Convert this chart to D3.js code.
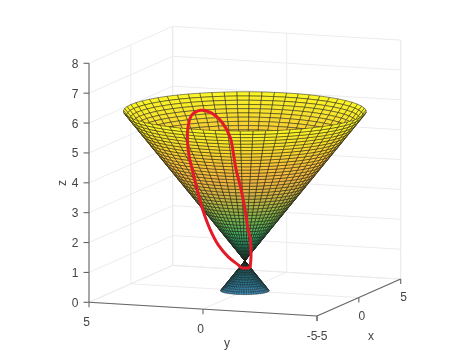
<!DOCTYPE html>
<html>
<head>
<meta charset="utf-8">
<script src="https://cdn.jsdelivr.net/npm/d3@7"></script>
<style>
html,body{margin:0;padding:0;background:#fff;}
svg{display:block;filter:blur(0.35px);}
text{font-family:"Liberation Sans",Arial,sans-serif;fill:#444;}
</style>
</head>
<body>
<svg id="c" width="474" height="355"></svg>
<script>
// ---- data ----
const xTicks = [-5, 0, 5];
const yTicks = [5, 0, -5];
const zTicks = [0, 1, 2, 3, 4, 5, 6, 7, 8];
const upperRadii = d3.range(0, 41).map(i => i * 0.125);
const lowerRadii = d3.range(0, 15).map(i => i / 14);
const meridians = d3.range(0, 61).map(i => i * 6);
const colorZ = [0, 0.5, 1, 1.5, 2, 2.5, 3, 3.5, 4, 4.5, 5, 5.5, 6];
const colorV = ["#348ec4", "#2c90b0", "#24969a", "#26a87e", "#43b066", "#74b450", "#a5b445", "#d2b342", "#efb540", "#f8c03a", "#f7d032", "#f8e42c", "#fbf626"];
// red hand-drawn loop, read on the plane x = 0
const curveY = [-0.23, -0.27, -0.23, -0.13, -0.05, 0.14, 0.40, 0.48, 0.65, 1.02, 1.45, 1.94, 2.33, 2.49, 2.52, 2.44, 2.30, 2.11, 1.87, 1.53, 1.16, 0.73, 0.29, 0.14, -0.05, -0.23];
const curveZ = [0.77, 1.21, 1.77, 2.10, 2.53, 3.30, 4.09, 4.46, 5.12, 5.61, 5.88, 5.95, 5.77, 5.37, 4.92, 4.37, 3.93, 3.34, 2.68, 1.99, 1.47, 1.10, 0.85, 0.76, 0.76, 0.77];

// ---- projection from scales ----
const ox = 89, oy = 302.3;
const xToPx = d3.scaleLinear().domain([-5, 5]).range([0, 83.7]);
const xToPy = d3.scaleLinear().domain([-5, 5]).range([0, -36.9]);
const yToPx = d3.scaleLinear().domain([5, -5]).range([0, 228]);
const yToPy = d3.scaleLinear().domain([5, -5]).range([0, 13.7]);
const zToPy = d3.scaleLinear().domain([0, 8]).range([0, -239]);
const P = (x, y, z) => [ox + xToPx(x) + yToPx(y), oy + xToPy(x) + yToPy(y) + zToPy(z)];
const depth = (x, y, z) => 0.987 * 24.3 * (-x * 3.69 - y * 1.37) / 3.94 + 0.162 * z * 30.3;
const color = d3.scaleLinear().domain(colorZ).range(colorV).interpolate(d3.interpolateRgb).clamp(true);

const svg = d3.select("#c");

// ---- grid ----
const grid = svg.append("g").attr("stroke", "#eaeaee").attr("stroke-width", 0.9).attr("fill", "none");
const seg = (g, a, b) => g.append("line").attr("x1", a[0]).attr("y1", a[1]).attr("x2", b[0]).attr("y2", b[1]);
zTicks.forEach(z => {
  seg(grid, P(-5, 5, z), P(5, 5, z));
  seg(grid, P(5, 5, z), P(5, -5, z));
});
seg(grid, P(5, 5, 0), P(5, 5, 8));
seg(grid, P(5, -5, 0), P(5, -5, 8));
xTicks.forEach(x => { seg(grid, P(x, 5, 0), P(x, -5, 0)); seg(grid, P(x, 5, 0), P(x, 5, 8)); });
yTicks.forEach(y => { seg(grid, P(-5, y, 0), P(5, y, 0)); seg(grid, P(5, y, 0), P(5, y, 8)); });

// ---- axes ----
const ax = svg.append("g").attr("stroke", "#666").attr("stroke-width", 1.1).attr("fill", "none");
seg(ax, P(-5, 5, 0), P(-5, 5, 8));
seg(ax, P(-5, 5, 0), P(-5, -5, 0));
seg(ax, P(-5, -5, 0), P(5, -5, 0));
zTicks.forEach(z => { const p = P(-5, 5, z); seg(ax, [p[0] - 5.5, p[1]], p); });
yTicks.forEach(y => { const p = P(-5, y, 0); seg(ax, p, [p[0], p[1] + 5]); });
xTicks.forEach(x => { const p = P(x, -5, 0); seg(ax, p, [p[0], p[1] + 5]); });

const label = (x, y, s, rot) => {
  const t = svg.append("text").attr("x", x).attr("y", y).attr("font-size", 12)
    .attr("text-anchor", "middle").attr("dominant-baseline", "central").text(s);
  if (rot) t.attr("transform", `rotate(${rot},${x},${y})`);
};
zTicks.forEach(z => { const p = P(-5, 5, z); label(p[0] - 14, p[1] + 0.5, z); });
yTicks.forEach(y => { const p = P(-5, y, 0); label(p[0] - (y === -5 ? 5 : 2.5), p[1] + 19.5, y); });
xTicks.forEach(x => { const p = P(x, -5, 0); label(p[0] + (x === -5 ? 5 : 3), p[1] + (x === -5 ? 19.5 : 18), x); });
label(227, 343, "y");
label(371, 336, "x");
label(62, 183, "z", -90);

// ---- surface ----
const faces = [];
function addCone(radii, zOf, sw) {
  for (let i = 0; i < radii.length - 1; i++) {
    for (let j = 0; j < meridians.length - 1; j++) {
      const r0 = radii[i], r1 = radii[i + 1];
      const a0 = meridians[j] * Math.PI / 180, a1 = meridians[j + 1] * Math.PI / 180;
      const v = [[r0, a0], [r1, a0], [r1, a1], [r0, a1]].map(([r, a]) => [r * Math.cos(a), r * Math.sin(a), zOf(r)]);
      const c = v.reduce((s, q) => [s[0] + q[0] / 4, s[1] + q[1] / 4, s[2] + q[2] / 4], [0, 0, 0]);
      faces.push({ pts: v.map(q => P(q[0], q[1], q[2])), d: depth(c[0], c[1], c[2]), z: c[2], sw });
    }
  }
}
addCone(upperRadii, r => 1 + r, 0.5);
addCone(lowerRadii, r => 1 - r, 0.38);
faces.sort((a, b) => d3.ascending(a.d, b.d));

svg.append("g").selectAll("polygon").data(faces).join("polygon")
  .attr("points", d => d.pts.map(p => p[0].toFixed(2) + "," + p[1].toFixed(2)).join(" "))
  .attr("fill", d => color(d.z))
  .attr("stroke", "#1c1c14")
  .attr("stroke-width", d => d.sw)
  .attr("stroke-linejoin", "round");

// ---- red loop ----
const line = d3.line().curve(d3.curveCatmullRom.alpha(0.5));
svg.append("path")
  .attr("d", line(curveY.map((y, i) => P(0, y, curveZ[i]))))
  .attr("fill", "none").attr("stroke", "#e31a28").attr("stroke-width", 3).attr("stroke-linejoin", "round");
</script>
</body>
</html>
